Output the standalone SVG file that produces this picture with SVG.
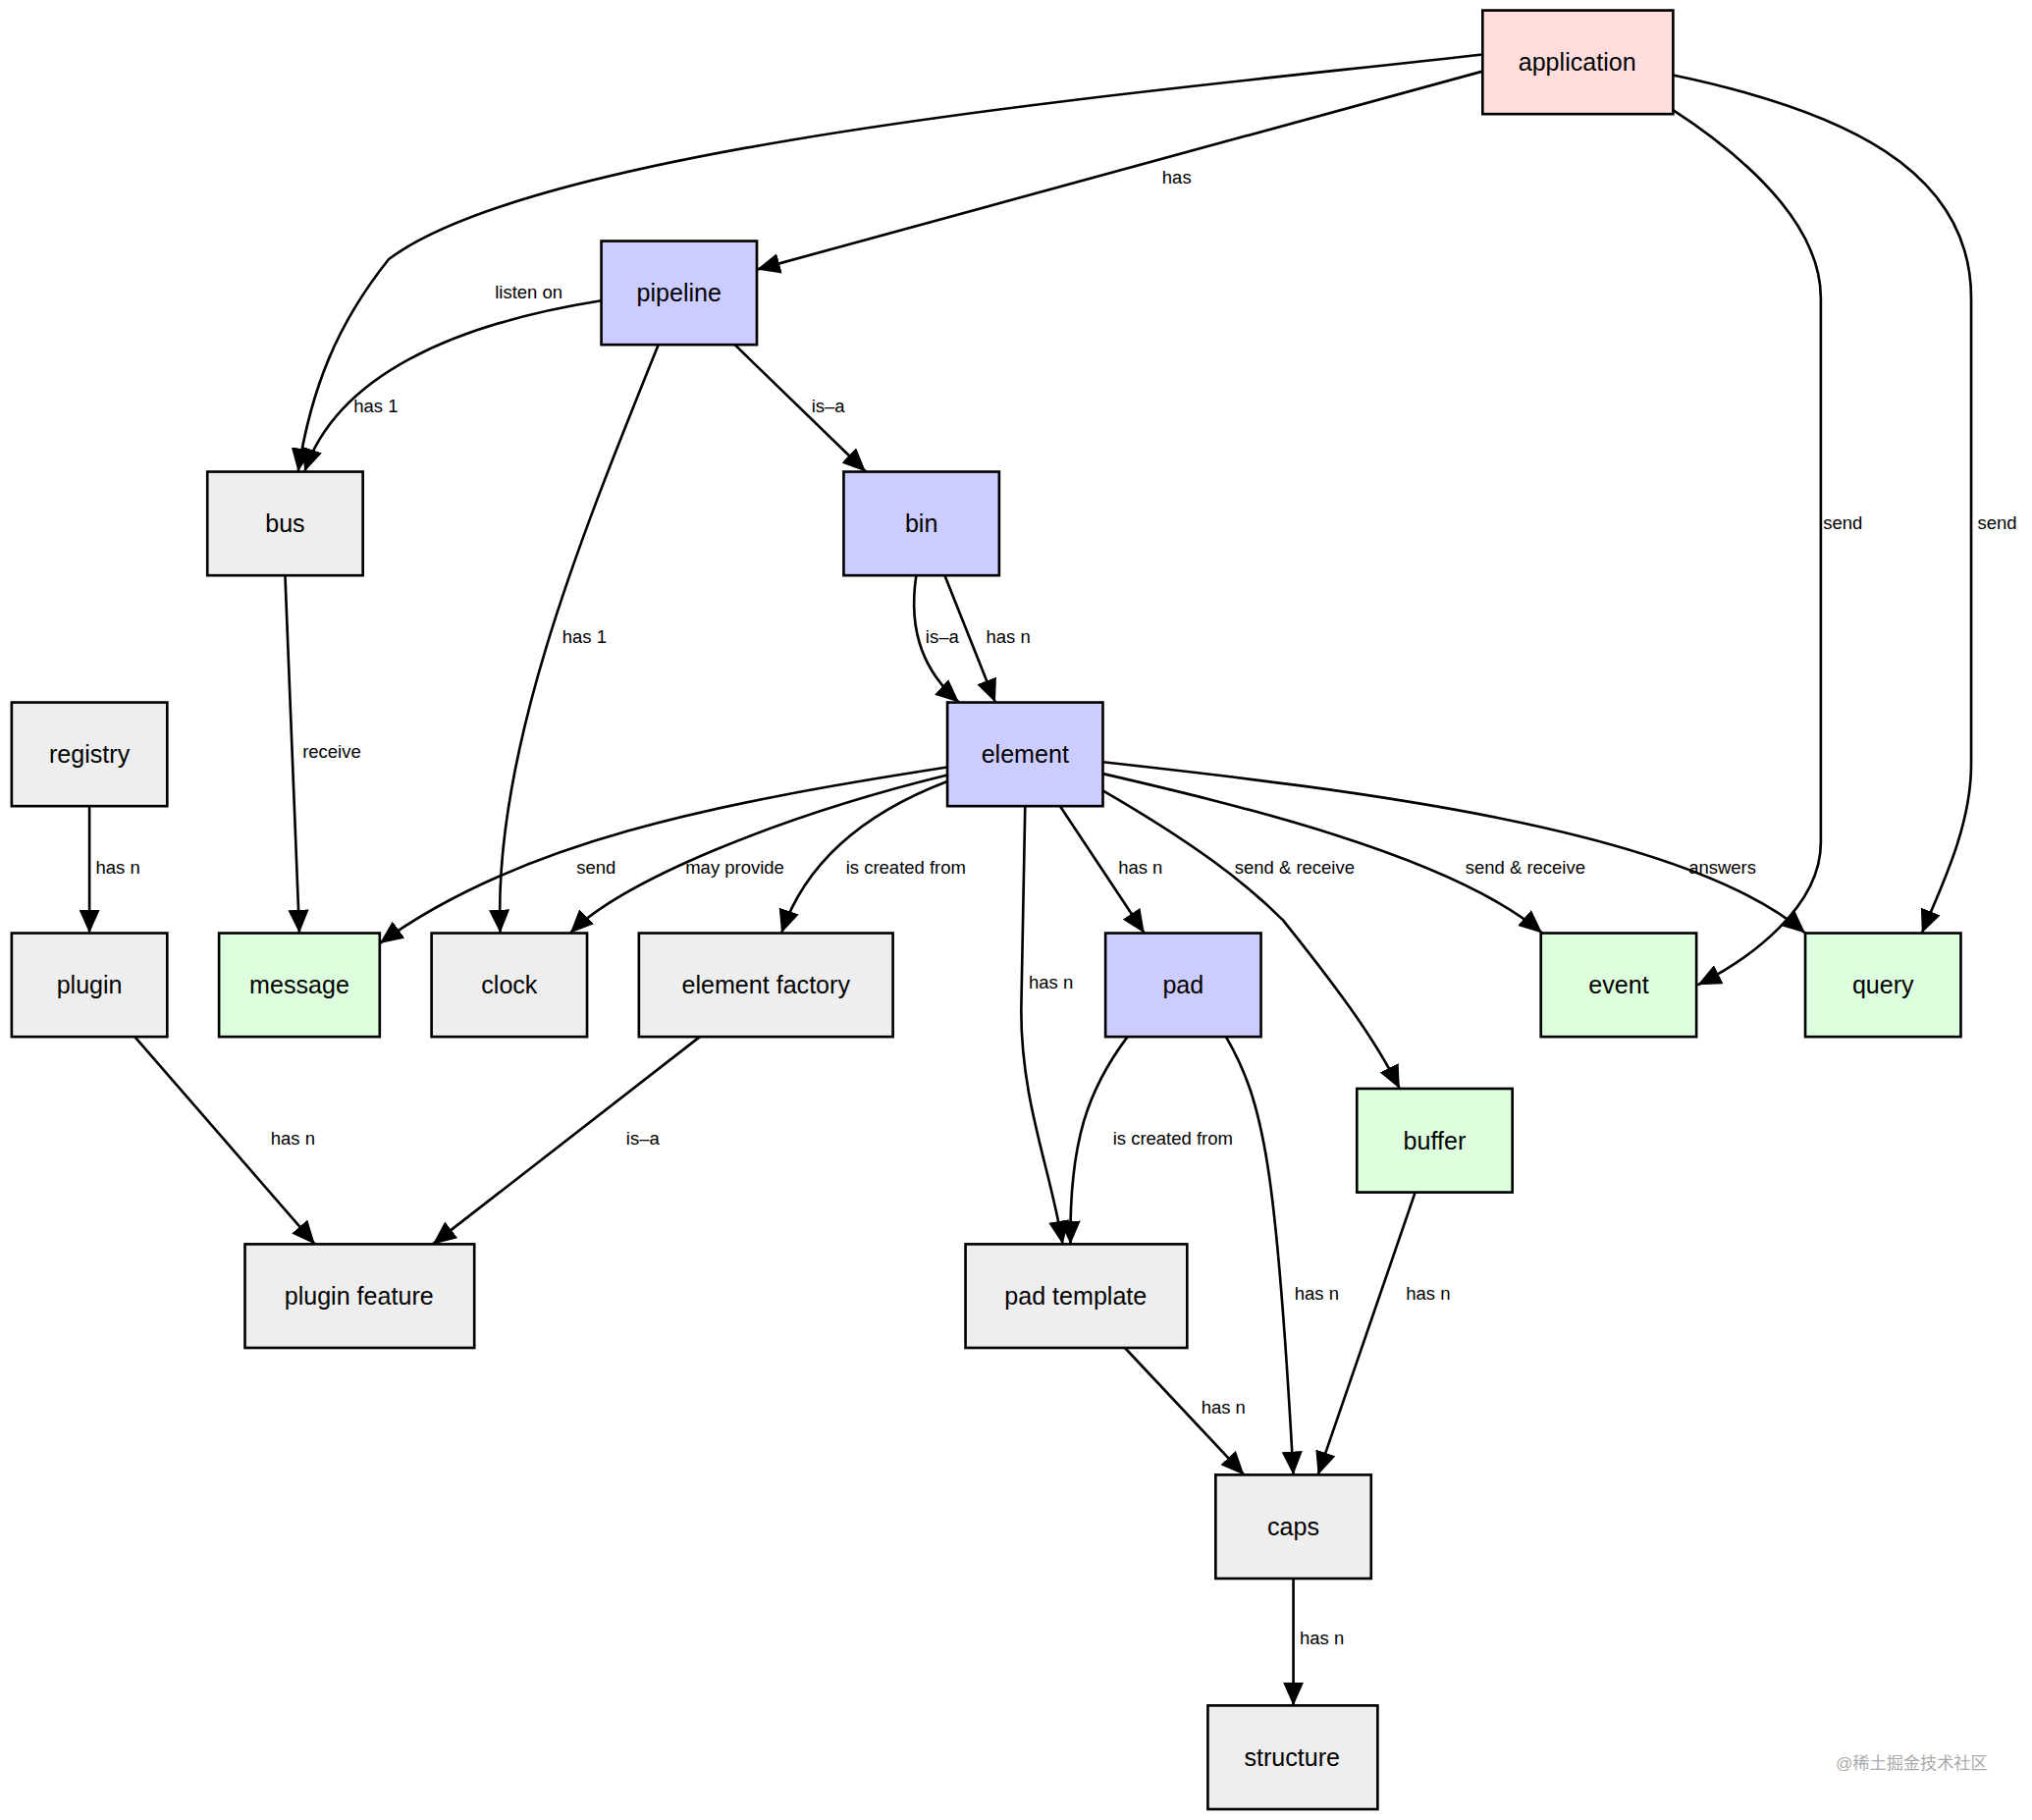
<svg xmlns="http://www.w3.org/2000/svg" width="2070" height="1854" viewBox="0 0 2070 1854">
<style>
.n{stroke:#000;stroke-width:2}
.g{fill:#eeeeee}.b{fill:#ccccff}.gr{fill:#ddffdd}.r{fill:#ffdddd}
.t{font-family:"Liberation Sans",Arial,sans-serif;font-size:19px;text-anchor:middle;dominant-baseline:central;fill:#000}
.e path{fill:none;stroke:#000;stroke-width:2;marker-end:url(#a)}
.l{font-family:"Liberation Sans",Arial,sans-serif;font-size:14px;text-anchor:middle;dominant-baseline:central;fill:#000}
</style>
<defs><marker id="a" markerUnits="userSpaceOnUse" markerWidth="20" markerHeight="16" refX="18" refY="8" orient="auto"><path d="M0,0 L18,8 L0,16 z" fill="#000"/></marker></defs>
<rect width="2070" height="1854" fill="#fff"/>
<g transform="scale(1.3202)">
<g class="e">
<path d="M1144,55 L584,208"/>
<path d="M1144,42 C900,70 420,110 300,200 C260,250 240,300 230,364"/>
<path d="M1291,85 C1360,130 1405,180 1405,230 L1405,650 C1405,700 1350,740 1310,760"/>
<path d="M1291,58 C1420,85 1521,130 1521,230 L1521,590 C1521,640 1495,690 1483,720"/>
<path d="M464,232 C350,250 260,290 235,364"/>
<path d="M508,266 C450,410 380,580 386,720"/>
<path d="M567,266 L668,364"/>
<path d="M707,444 C700,490 715,520 740,542"/>
<path d="M729,444 L768,542"/>
<path d="M220,444 L231,720"/>
<path d="M69,622 L69,720"/>
<path d="M731,592 C550,620 400,650 293,728"/>
<path d="M731,598 C600,630 480,680 440,720"/>
<path d="M731,603 C660,630 620,670 603,720"/>
<path d="M818,622 L883,720"/>
<path d="M791,622 L788,780 C788,850 810,900 820,960"/>
<path d="M851,610 C920,650 960,680 990,710 C1030,760 1060,800 1080,840"/>
<path d="M851,597 C950,620 1120,660 1190,720"/>
<path d="M851,588 C1050,610 1300,640 1393,720"/>
<path d="M104,800 L243,960"/>
<path d="M540,800 L334,960"/>
<path d="M870,800 C840,840 825,880 826,960"/>
<path d="M946,800 C975,850 985,900 998,1138"/>
<path d="M1092,920 L1017,1138"/>
<path d="M868,1040 L960,1138"/>
<path d="M998,1218 L998,1316"/>
</g>
<g>
<text class="l" x="908" y="137">has</text>
<text class="l" x="408" y="225">listen on</text>
<text class="l" x="1422" y="403">send</text>
<text class="l" x="1541" y="403">send</text>
<text class="l" x="290" y="313">has 1</text>
<text class="l" x="451" y="491">has 1</text>
<text class="l" x="639" y="313">is–a</text>
<text class="l" x="727" y="491">is–a</text>
<text class="l" x="778" y="491">has n</text>
<text class="l" x="256" y="580">receive</text>
<text class="l" x="91" y="669">has n</text>
<text class="l" x="460" y="669">send</text>
<text class="l" x="567" y="669">may provide</text>
<text class="l" x="699" y="669">is created from</text>
<text class="l" x="880" y="669">has n</text>
<text class="l" x="811" y="758">has n</text>
<text class="l" x="999" y="669">send &amp; receive</text>
<text class="l" x="1177" y="669">send &amp; receive</text>
<text class="l" x="1329" y="669">answers</text>
<text class="l" x="226" y="878">has n</text>
<text class="l" x="496" y="878">is–a</text>
<text class="l" x="905" y="878">is created from</text>
<text class="l" x="1016" y="998">has n</text>
<text class="l" x="1102" y="998">has n</text>
<text class="l" x="944" y="1086">has n</text>
<text class="l" x="1020" y="1264">has n</text>
</g>
<g id="application"><rect class="n r" x="1144" y="8" width="147" height="80"/><text class="t" x="1217" y="48">application</text></g>
<g id="pipeline"><rect class="n b" x="464" y="186" width="120" height="80"/><text class="t" x="524" y="226">pipeline</text></g>
<g id="bus"><rect class="n g" x="160" y="364" width="120" height="80"/><text class="t" x="220" y="404">bus</text></g>
<g id="bin"><rect class="n b" x="651" y="364" width="120" height="80"/><text class="t" x="711" y="404">bin</text></g>
<g id="registry"><rect class="n g" x="9" y="542" width="120" height="80"/><text class="t" x="69" y="582">registry</text></g>
<g id="element"><rect class="n b" x="731" y="542" width="120" height="80"/><text class="t" x="791" y="582">element</text></g>
<g id="plugin"><rect class="n g" x="9" y="720" width="120" height="80"/><text class="t" x="69" y="760">plugin</text></g>
<g id="message"><rect class="n gr" x="169" y="720" width="124" height="80"/><text class="t" x="231" y="760">message</text></g>
<g id="clock"><rect class="n g" x="333" y="720" width="120" height="80"/><text class="t" x="393" y="760">clock</text></g>
<g id="element_factory"><rect class="n g" x="493" y="720" width="196" height="80"/><text class="t" x="591" y="760">element factory</text></g>
<g id="pad"><rect class="n b" x="853" y="720" width="120" height="80"/><text class="t" x="913" y="760">pad</text></g>
<g id="event"><rect class="n gr" x="1189" y="720" width="120" height="80"/><text class="t" x="1249" y="760">event</text></g>
<g id="query"><rect class="n gr" x="1393" y="720" width="120" height="80"/><text class="t" x="1453" y="760">query</text></g>
<g id="buffer"><rect class="n gr" x="1047" y="840" width="120" height="80"/><text class="t" x="1107" y="880">buffer</text></g>
<g id="plugin_feature"><rect class="n g" x="189" y="960" width="177" height="80"/><text class="t" x="277" y="1000">plugin feature</text></g>
<g id="pad_template"><rect class="n g" x="745" y="960" width="171" height="80"/><text class="t" x="830" y="1000">pad template</text></g>
<g id="caps"><rect class="n g" x="938" y="1138" width="120" height="80"/><text class="t" x="998" y="1178">caps</text></g>
<g id="structure"><rect class="n g" x="932" y="1316" width="131" height="80"/><text class="t" x="997" y="1356">structure</text></g>
<text x="1475" y="1365" font-family="'Liberation Sans','Noto Sans CJK SC',sans-serif" font-size="13" fill="#aaaaaa" text-anchor="middle">@稀土掘金技术社区</text>
</g>
</svg>
